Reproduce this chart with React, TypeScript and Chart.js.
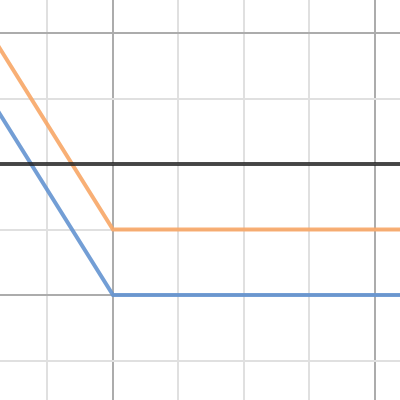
import React, { useEffect, useRef } from "react";
import { Chart, registerables } from "chart.js";

Chart.register(...registerables);

const xValues = [-1.8, 0, 4.5];
const orangeValues = [3.88, 1, 1];
const blueValues = [2.88, 0, 0];
const darkValues = [2, 2, 2];
const xTicks = [-1, 0, 1, 2, 3, 4];
const yTicks = [-1, 0, 1, 2, 3, 4];

const toPoints = (ys: number[]) => xValues.map((x, i) => ({ x, y: ys[i] }));

export default function App() {
  const ref = useRef<HTMLCanvasElement | null>(null);
  useEffect(() => {
    if (!ref.current) return;
    const gridColor = (ctx: any) =>
      ctx.tick && ctx.tick.value % 4 === 0 ? "#acacac" : "#e0e0e0";
    const chart = new Chart(ref.current, {
      type: "scatter",
      data: {
        datasets: [
          {
            data: toPoints(orangeValues),
            showLine: true,
            borderColor: "rgba(247,166,102,0.9)",
            borderWidth: 4,
            pointRadius: 0,
            order: 2,
          },
          {
            data: toPoints(blueValues),
            showLine: true,
            borderColor: "rgba(100,148,208,0.9)",
            borderWidth: 4,
            pointRadius: 0,
            order: 2,
          },
          {
            data: toPoints(darkValues),
            showLine: true,
            borderColor: "rgba(30,30,30,0.8)",
            borderWidth: 4,
            pointRadius: 0,
            order: 1,
          },
        ],
      },
      options: {
        animation: false,
        responsive: false,
        layout: { padding: 0 },
        plugins: { legend: { display: false }, tooltip: { enabled: false } },
        scales: {
          x: {
            type: "linear",
            min: -1.725,
            max: 4.382,
            afterBuildTicks: (s: any) => {
              s.ticks = xTicks.map((v) => ({ value: v }));
            },
            ticks: { display: false },
            border: { display: false },
            grid: { color: gridColor, lineWidth: 2, drawTicks: false },
          },
          y: {
            type: "linear",
            min: -1.603,
            max: 4.504,
            afterBuildTicks: (s: any) => {
              s.ticks = yTicks.map((v) => ({ value: v }));
            },
            ticks: { display: false },
            border: { display: false },
            grid: { color: gridColor, lineWidth: 2, drawTicks: false },
          },
        },
      },
    });
    return () => chart.destroy();
  }, []);
  return (
    <div style={{ position: "fixed", left: 0, top: 0, width: 400, height: 400, background: "#fff" }}>
      <canvas ref={ref} width={400} height={400} style={{ display: "block" }} />
    </div>
  );
}
